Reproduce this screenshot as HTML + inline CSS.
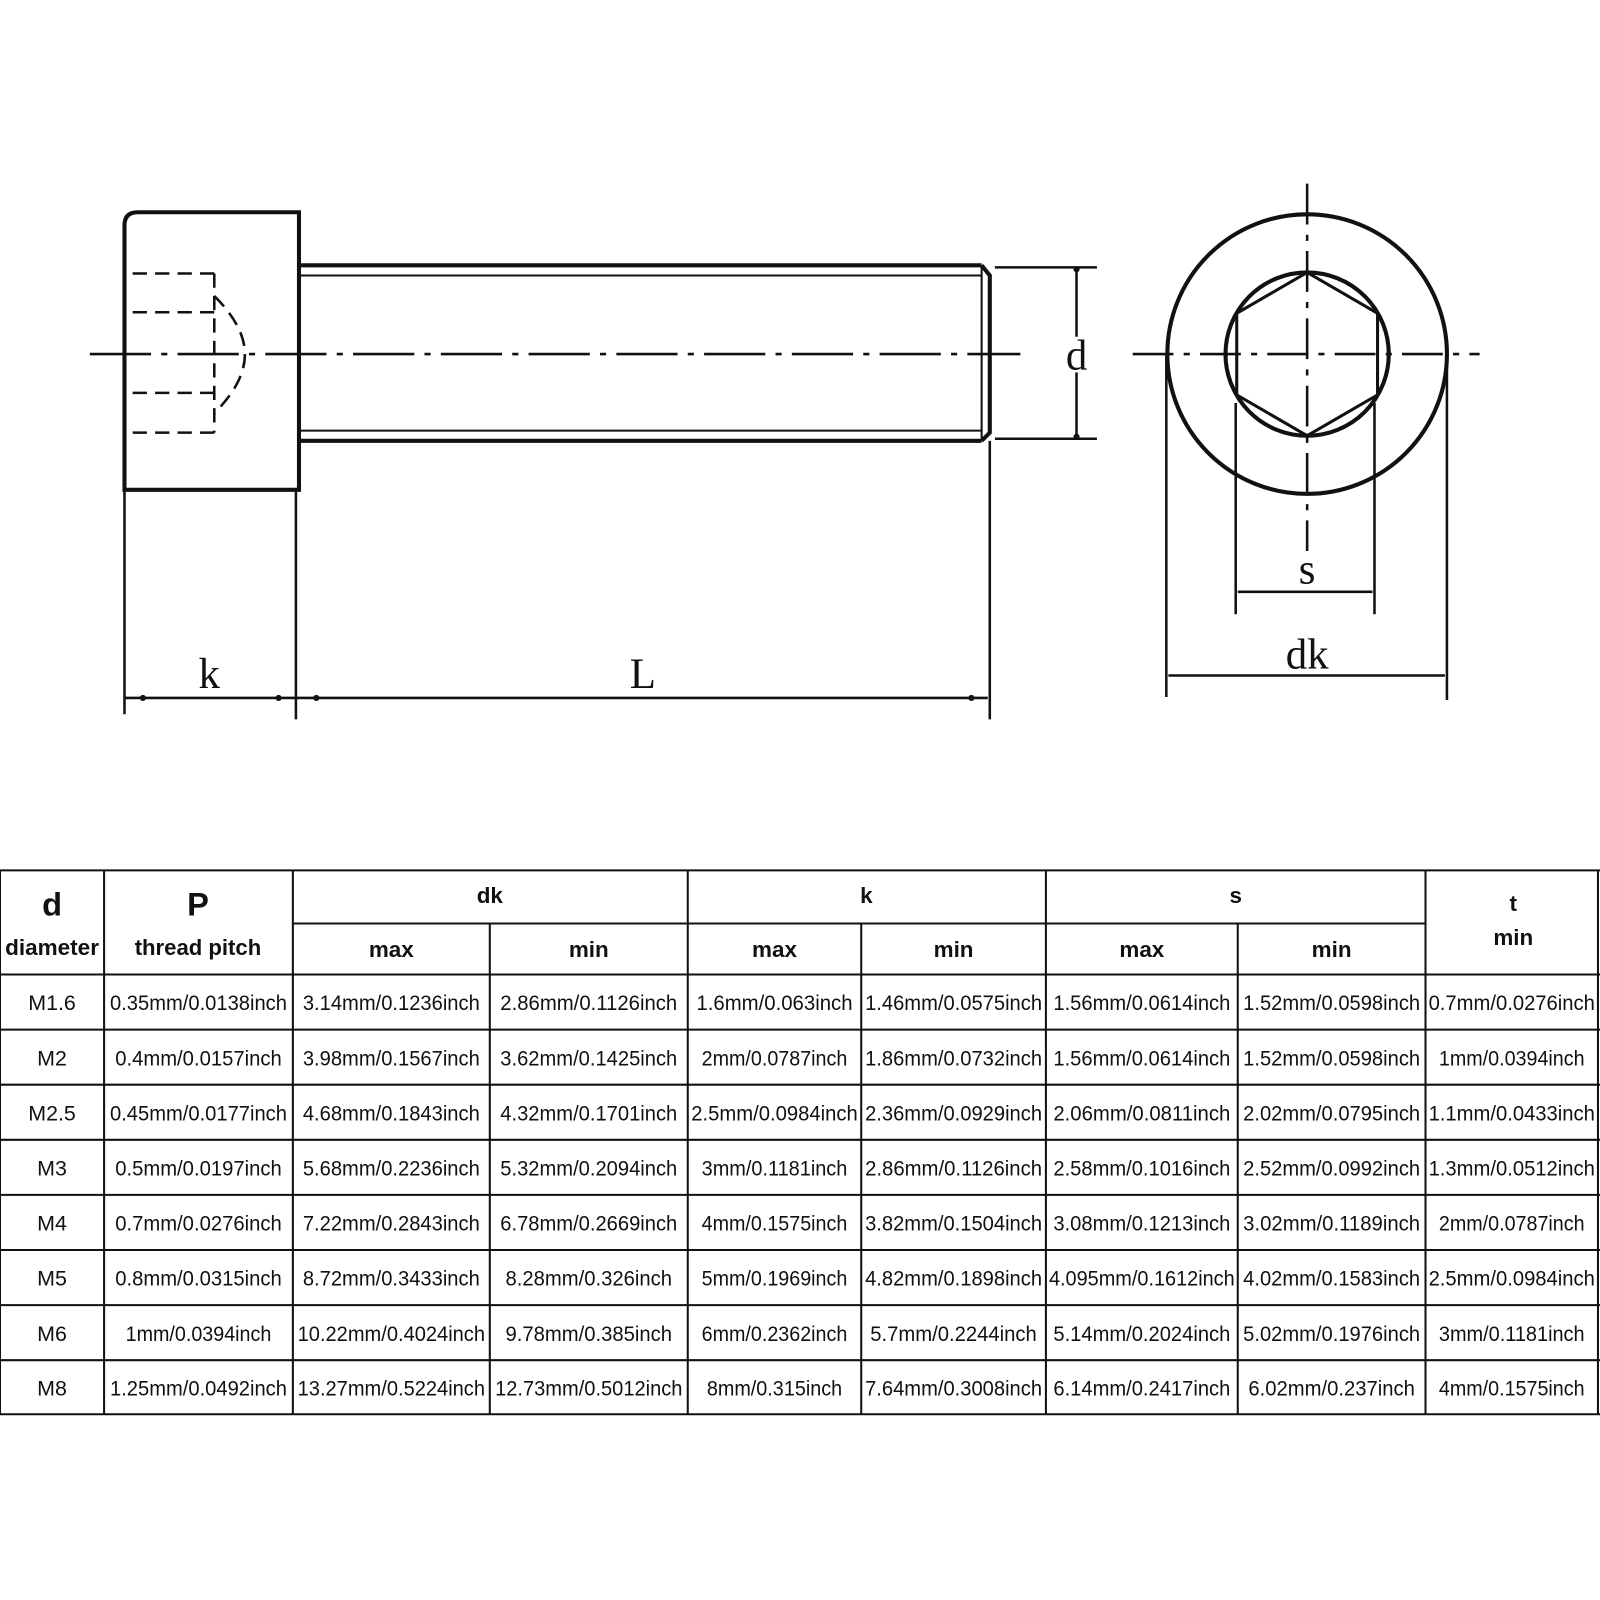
<!DOCTYPE html>
<html><head><meta charset="utf-8"><style>
html,body{margin:0;padding:0;background:#fff;width:1600px;height:1600px;overflow:hidden}
svg{display:block}
text{font-family:"Liberation Sans",sans-serif;fill:#111}
.b{font-weight:bold}
.s{font-family:"Liberation Serif",serif}
</style></head><body>
<svg id="sv" width="1600" height="1600" viewBox="0 0 1568 1568" xmlns="http://www.w3.org/2000/svg">
<g stroke="#111" fill="none" stroke-width="4">
<path d="M135,208 L293,208 L293,480 L122,480 L122,221 Q122,208 135,208 Z"/>
<g stroke-width="2.5" stroke-dasharray="14,8">
<line x1="130" y1="268" x2="210" y2="268"/><line x1="130" y1="306" x2="210" y2="306"/>
<line x1="130" y1="385" x2="210" y2="385"/><line x1="130" y1="424" x2="210" y2="424"/>
<line x1="210" y1="268" x2="210" y2="424"/>
<path d="M210,290 Q240,320 240,347 Q240,375 210,405"/>
</g>
<line x1="293" y1="260" x2="962" y2="260"/>
<line x1="293" y1="270" x2="962" y2="270" stroke-width="2"/>
<line x1="293" y1="432" x2="962" y2="432"/>
<line x1="293" y1="422" x2="962" y2="422" stroke-width="2"/>
<path d="M962,260 L970,270 L970,424 L962,432"/>
<line x1="962" y1="262" x2="962" y2="430" stroke-width="2"/>
<line x1="88" y1="347" x2="1000" y2="347" stroke-width="2.5" stroke-dasharray="60,10,6,10"/>
<g stroke-width="2.5">
<line x1="975" y1="262" x2="1075" y2="262"/><line x1="975" y1="430" x2="1075" y2="430"/>
<line x1="1055" y1="265" x2="1055" y2="427"/>
<line x1="122" y1="480" x2="122" y2="700"/><line x1="290" y1="480" x2="290" y2="705"/>
<line x1="970" y1="432" x2="970" y2="705"/>
<line x1="122" y1="684" x2="968" y2="684"/>
<line x1="1110" y1="347" x2="1450" y2="347" stroke-dasharray="40,10,6,10"/>
<line x1="1281" y1="180" x2="1281" y2="540" stroke-dasharray="40,10,6,10"/>
<line x1="1211" y1="395" x2="1211" y2="602"/><line x1="1347" y1="395" x2="1347" y2="602"/>
<line x1="1213" y1="580" x2="1345" y2="580"/>
<line x1="1143" y1="347" x2="1143" y2="683"/><line x1="1418" y1="347" x2="1418" y2="686"/>
<line x1="1145" y1="662" x2="1416" y2="662"/>
</g>
<circle cx="1281" cy="347" r="137"/>
<circle cx="1281" cy="347" r="80"/>
<polygon points="1281,267 1350,307 1350,387 1281,427 1212,387 1212,307" stroke-width="3"/>
</g>
<g fill="#111">
<circle cx="1055" cy="264" r="3"/><circle cx="1055" cy="428" r="3"/>
<circle cx="140" cy="684" r="3"/><circle cx="273" cy="684" r="3"/><circle cx="310" cy="684" r="3"/><circle cx="952" cy="684" r="3"/>
</g>
<rect x="1040" y="330" width="30" height="35" fill="#fff"/>
<text class="s" x="1055" y="362" font-size="42" text-anchor="middle">d</text>
<text class="s" x="205" y="674" font-size="42" text-anchor="middle">k</text>
<text class="s" x="630" y="674" font-size="42" text-anchor="middle">L</text>
<text class="s" x="1281" y="572" font-size="42" text-anchor="middle">s</text>
<text class="s" x="1281" y="655" font-size="42" text-anchor="middle">dk</text>
<g id="tbl"></g>
</svg>
<script>
var X=[0,102,287,480,674,844,1025,1213,1397,1566];
var Y=[853,955,1009,1063,1117,1171,1225,1279,1333,1386];
var rows=[
["M1.6","0.35mm/0.0138inch","3.14mm/0.1236inch","2.86mm/0.1126inch","1.6mm/0.063inch","1.46mm/0.0575inch","1.56mm/0.0614inch","1.52mm/0.0598inch","0.7mm/0.0276inch"],
["M2","0.4mm/0.0157inch","3.98mm/0.1567inch","3.62mm/0.1425inch","2mm/0.0787inch","1.86mm/0.0732inch","1.56mm/0.0614inch","1.52mm/0.0598inch","1mm/0.0394inch"],
["M2.5","0.45mm/0.0177inch","4.68mm/0.1843inch","4.32mm/0.1701inch","2.5mm/0.0984inch","2.36mm/0.0929inch","2.06mm/0.0811inch","2.02mm/0.0795inch","1.1mm/0.0433inch"],
["M3","0.5mm/0.0197inch","5.68mm/0.2236inch","5.32mm/0.2094inch","3mm/0.1181inch","2.86mm/0.1126inch","2.58mm/0.1016inch","2.52mm/0.0992inch","1.3mm/0.0512inch"],
["M4","0.7mm/0.0276inch","7.22mm/0.2843inch","6.78mm/0.2669inch","4mm/0.1575inch","3.82mm/0.1504inch","3.08mm/0.1213inch","3.02mm/0.1189inch","2mm/0.0787inch"],
["M5","0.8mm/0.0315inch","8.72mm/0.3433inch","8.28mm/0.326inch","5mm/0.1969inch","4.82mm/0.1898inch","4.095mm/0.1612inch","4.02mm/0.1583inch","2.5mm/0.0984inch"],
["M6","1mm/0.0394inch","10.22mm/0.4024inch","9.78mm/0.385inch","6mm/0.2362inch","5.7mm/0.2244inch","5.14mm/0.2024inch","5.02mm/0.1976inch","3mm/0.1181inch"],
["M8","1.25mm/0.0492inch","13.27mm/0.5224inch","12.73mm/0.5012inch","8mm/0.315inch","7.64mm/0.3008inch","6.14mm/0.2417inch","6.02mm/0.237inch","4mm/0.1575inch"]];
var s='<g stroke="#111" stroke-width="2">';
Y.forEach(function(y){s+='<line x1="0" y1="'+y+'" x2="1568" y2="'+y+'"/>';});
s+='<line x1="287" y1="905" x2="1397" y2="905"/>';
X.forEach(function(x,i){var y0=(i==3||i==5||i==7)?905:853;s+='<line x1="'+x+'" y1="'+y0+'" x2="'+x+'" y2="1386"/>';});
s+='</g>';
function t(x,y,str,cls,fs,tl){s+='<text x="'+x+'" y="'+y+'" font-size="'+fs+'" text-anchor="middle"'+(cls?' class="'+cls+'"':'')+(tl?' textLength="'+tl+'" lengthAdjust="spacingAndGlyphs"':'')+'>'+str+'</text>';}
t(51,897,"d","b",32);t(51,936,"diameter","b",22,92);
t(194,897,"P","b",32);t(194,936,"thread pitch","b",22,124);
t(480,885,"dk","b",22);t(849,885,"k","b",22);t(1211,885,"s","b",22);
t(1483,893,"t","b",22);t(1483,926,"min","b",22);
var sub=["max","min","max","min","max","min"];
for(var i=0;i<6;i++)t((X[i+2]+X[i+3])/2,938,sub[i],"b",22);
rows.forEach(function(r,ri){var y=(Y[ri+1]+Y[ri+2])/2+8;
r.forEach(function(c,ci){var cx=(X[ci]+X[ci+1])/2;var tl=c.length>=8?Math.min(c.length*10.2,X[ci+1]-X[ci]-6):0;t(cx,y,c,"",21,tl);});});
document.getElementById("tbl").innerHTML=s;
</script>
</body></html>
